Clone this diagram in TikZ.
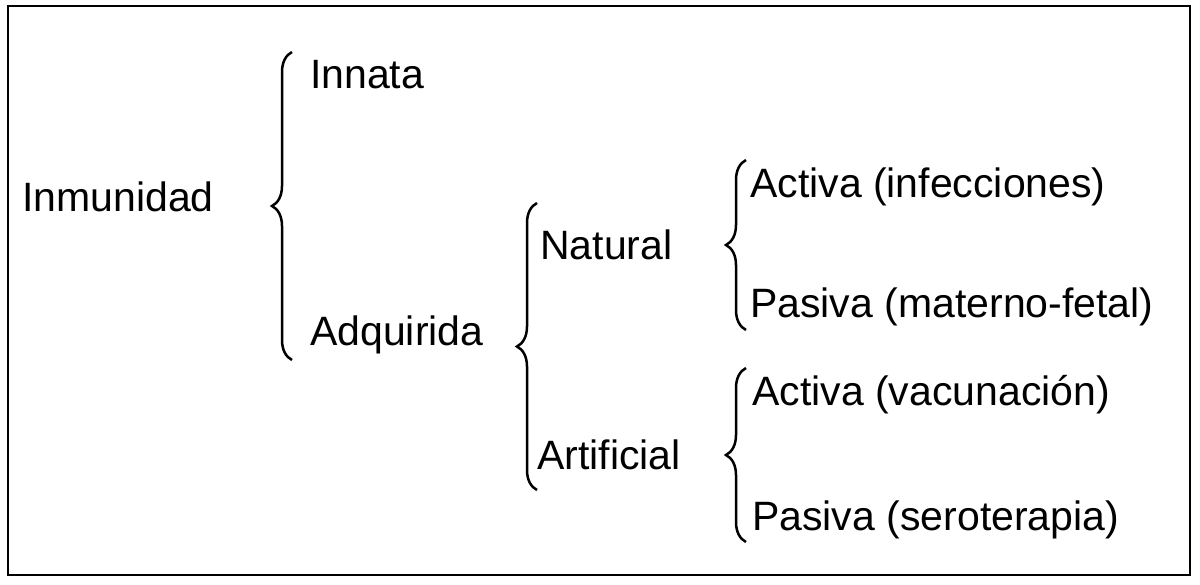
\documentclass[tikz,border=0pt]{standalone}
\usepackage{fontspec}
\setmainfont{Liberation Sans}
\usetikzlibrary{decorations.pathreplacing}
\begin{document}
\begin{tikzpicture}[x=1pt,y=-1pt,
  lbl/.style={anchor=west,inner sep=0pt,font=\fontsize{41}{46}\selectfont},
  br/.style={draw,line width=2.5pt,decorate,decoration={brace,amplitude=20pt,raise=0pt}}]
\useasboundingbox (0,0) rectangle (1200,584);
\fill[white] (0,0) rectangle (1200,584);
\draw[line width=2.5pt] (8,6) rectangle (1190,575);
\node[lbl] (inm) at (22,197) {Inmunidad};
\node[lbl] (inn) at (310,75) {Innata};
\node[lbl] (adq) at (310,335) {Adquirida};
\node[lbl] (nat) at (540,245) {Natural};
\node[lbl] (art) at (537,455) {Artificial};
\node[lbl] (a1) at (750,187) {Activa (infecciones)};
\node[lbl] (p1) at (750,307) {Pasiva (materno-fetal)};
\node[lbl] (a2) at (752,395) {Activa (vacunación)};
\node[lbl] (p2) at (752,520) {Pasiva (seroterapia)};
\coordinate (b1s) at (292,360); \coordinate (b1e) at (292,52);
\coordinate (b2s) at (537,490); \coordinate (b2e) at (537,203);
\coordinate (b3s) at (746,330); \coordinate (b3e) at (746,160);
\coordinate (b4s) at (746,542); \coordinate (b4e) at (746,368);
\draw[br] (b1s) -- (b1e);
\draw[br] (b2s) -- (b2e);
\draw[br] (b3s) -- (b3e);
\draw[br] (b4s) -- (b4e);
\end{tikzpicture}
\end{document}
